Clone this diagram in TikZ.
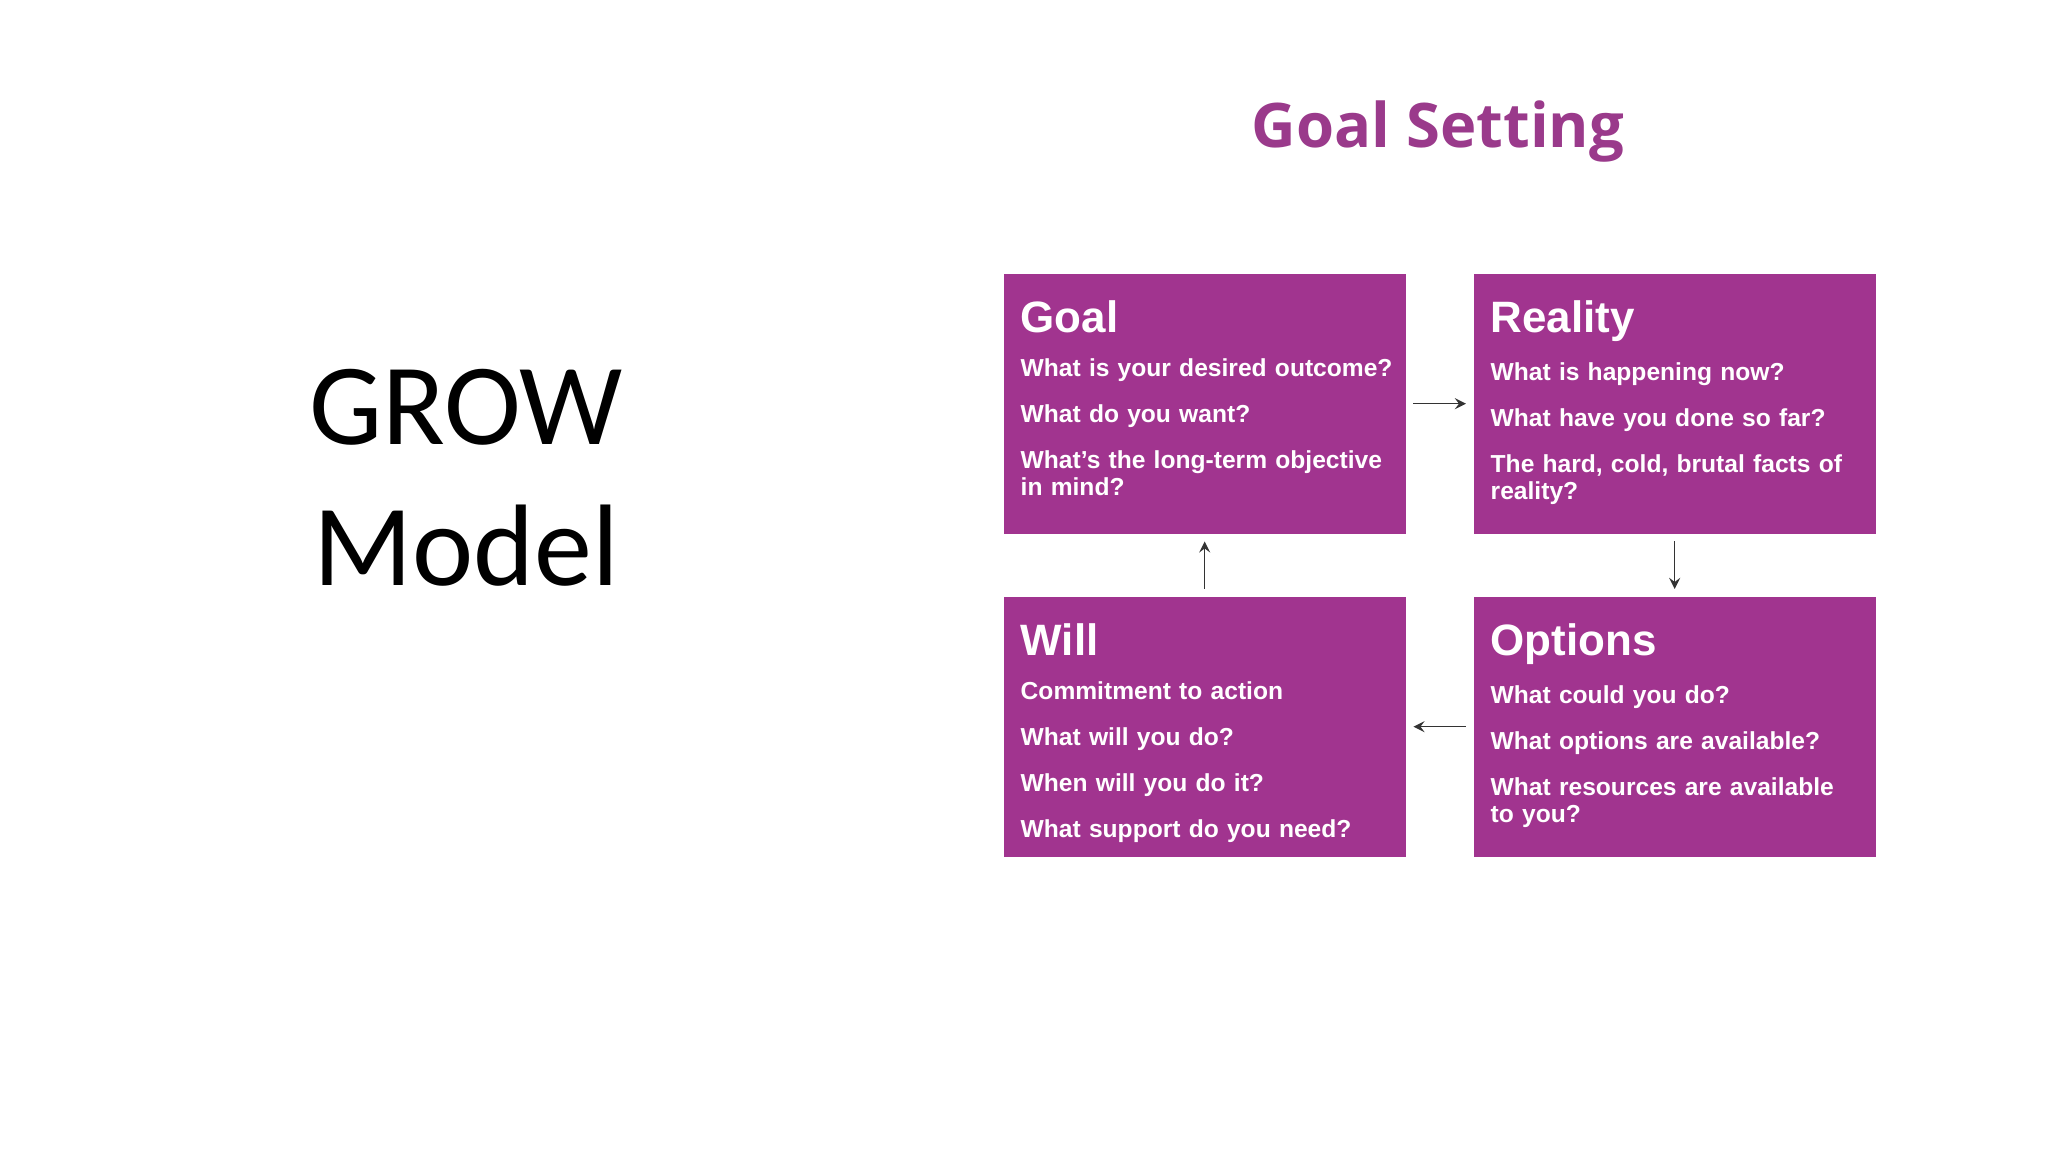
\documentclass[tikz,border=0pt]{standalone}
\usepackage{fontspec}
\setmainfont{Liberation Sans}
\newfontfamily\slidefont{Carlito}
\newfontfamily\titlefont{Open Sans}
\usetikzlibrary{positioning}
\definecolor{growpurple}{HTML}{A1348F}
\definecolor{titlepurple}{HTML}{9A3A8B}
\tikzset{
  stagebox/.style={rectangle, fill=growpurple, minimum width=4.02cm, minimum height=2.6cm, inner sep=0pt},
  stagetext/.style={anchor=north west, text=white, font=\fontsize{7pt}{7.6pt}\selectfont\bfseries,
    align=left, text width=3.8cm, inner sep=0pt},
  flow/.style={->, >=stealth, thin, black!80, shorten >=2pt, shorten <=2pt}
}
\newcommand{\stagehead}[1]{{\fontsize{12.5pt}{13pt}\selectfont #1}\\[5pt]}
\begin{document}
\begin{tikzpicture}
  \useasboundingbox (0,0) rectangle (20.48,11.52);

  % Left caption
  \node[font=\slidefont\fontsize{33pt}{40pt}\selectfont, align=center] (grow) at (4.66,6.74) {GROW\\Model};

  % Title
  \node[font=\titlefont\fontsize{17.5pt}{20pt}\selectfont\bfseries, text=titlepurple] (title) at (14.38,10.2) {Goal Setting};

  % Stage boxes
  \node[stagebox, anchor=north west] (goal) at (10.03,8.79) {};
  \node[stagebox, anchor=north west] (reality) at (14.73,8.79) {};
  \node[stagebox, anchor=north west] (will) at (10.03,5.56) {};
  \node[stagebox, anchor=north west] (options) at (14.73,5.56) {};

  % Stage texts
  \node[stagetext] (goaltxt) at ([xshift=0.17cm, yshift=-0.27cm]goal.north west)
    {\stagehead{Goal}What is your desired outcome?\\[5.5pt]What do you want?\\[5.5pt]What's the long-term objective\\in mind?};
  \node[stagetext] (realitytxt) at ([xshift=0.17cm, yshift=-0.27cm]reality.north west)
    {\stagehead{Reality}What is happening now?\\[5.5pt]What have you done so far?\\[5.5pt]The hard, cold, brutal facts of\\reality?};
  \node[stagetext] (willtxt) at ([xshift=0.17cm, yshift=-0.27cm]will.north west)
    {\stagehead{Will}Commitment to action\\[5.5pt]What will you do?\\[5.5pt]When will you do it?\\[5.5pt]What support do you need?};
  \node[stagetext] (optionstxt) at ([xshift=0.17cm, yshift=-0.27cm]options.north west)
    {\stagehead{Options}What could you do?\\[5.5pt]What options are available?\\[5.5pt]What resources are available\\to you?};

  % Cycle arrows
  \draw[flow] (goal) -- (reality);
  \draw[flow] (reality) -- (options);
  \draw[flow] (options) -- (will);
  \draw[flow] (will) -- (goal);
\end{tikzpicture}
\end{document}
